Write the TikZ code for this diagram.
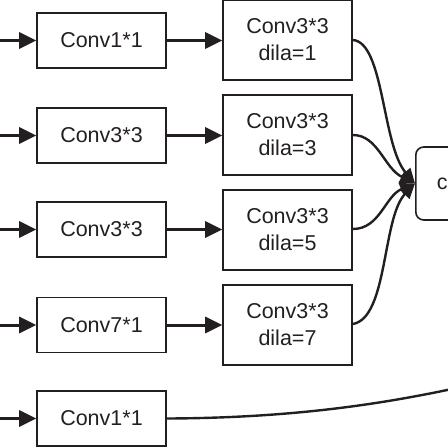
\documentclass[tikz,border=0pt]{standalone}
\usepackage{fontspec}
\setmainfont{Liberation Sans}
\usetikzlibrary{arrows.meta}
\definecolor{ink}{RGB}{35,31,32}
\begin{document}
\begin{tikzpicture}[x=1pt,y=-1pt,
  every node/.style={font=\fontsize{21.5}{27}\selectfont, text=ink},
  lbox/.style={draw=ink, line width=1.6pt, minimum width=129pt, minimum height=55pt, inner sep=0pt},
  rbox/.style={draw=ink, line width=1.6pt, minimum width=129pt, minimum height=80pt, inner sep=0pt, align=center},
  conn/.style={draw=ink, line width=3pt, -{Triangle[length=17pt,width=16pt]}},
  merge/.style={draw=ink, line width=2.4pt, -{Triangle[length=15pt,width=13pt]}},
  plain/.style={draw=ink, line width=2.4pt}]
\useasboundingbox (0,0) rectangle (448,448);

% left column
\node[lbox] (l1) at (101.5,40.5) {Conv1*1};
\node[lbox] (l2) at (101.5,135.5) {Conv3*3};
\node[lbox] (l3) at (101.5,229.5) {Conv3*3};
\node[lbox] (l4) at (101.5,325) {Conv7*1};
\node[lbox] (l5) at (101.5,418.5) {Conv1*1};

% right column
\node[rbox] (r1) at (287.5,40) {Conv3*3\\dila=1};
\node[rbox] (r2) at (287.5,135) {Conv3*3\\dila=3};
\node[rbox] (r3) at (287.5,230) {Conv3*3\\dila=5};
\node[rbox] (r4) at (287.5,325) {Conv3*3\\dila=7};

% partial concat box
\node[draw=ink, line width=1.6pt, rounded corners=8pt, anchor=west,
      minimum height=73pt, text width=40pt, align=left, inner xsep=21pt, inner ysep=0pt]
      (cat) at (415,183.5) {c};

% incoming free ends
\coordinate (i1) at (0,40.5);
\coordinate (i2) at (0,135.5);
\coordinate (i3) at (0,229.5);
\coordinate (i4) at (0,325);
\coordinate (i5) at (0,418.5);
\coordinate (o5) at (452,389);

\foreach \k in {1,...,5} { \draw[conn] (i\k) -- (l\k.west); }
\foreach \k in {1,...,4} { \draw[conn] (l\k.east) -- (l\k.east -| r\k.west); }

% converging curves
\draw[merge] (r1.east |- 0,40) .. controls (384,42) and (382,145) .. (cat.west);
\draw[merge] (r2.east |- 0,135) .. controls (378,135) and (384,168) .. (cat.west);
\draw[merge] (r3.east |- 0,229) .. controls (380,229) and (385,196) .. (cat.west);
\draw[merge] (r4.east |- 0,324) .. controls (388,318) and (382,218) .. (cat.west);

% bottom branch
\draw[plain] (l5.east) .. controls (300,418) and (390,402) .. (o5);
\end{tikzpicture}
\end{document}
